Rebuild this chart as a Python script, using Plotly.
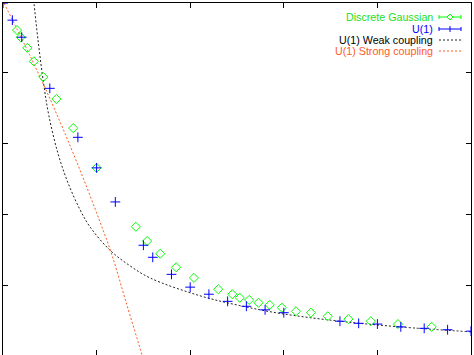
import plotly.graph_objects as go

# ---- data (axis units: ticks at 1..4) ----
dg_x = [0.15, 0.19, 0.26, 0.33, 0.43, 0.57, 0.75, 1.0, 1.42, 1.54, 1.68, 1.85, 2.04, 2.30,
        2.45, 2.53, 2.63, 2.73, 2.85, 2.98, 3.13, 3.29, 3.47, 3.69, 3.93, 4.22, 4.58]
dg_y = [4.59, 4.49, 4.34, 4.15, 3.93, 3.62, 3.21, 2.65, 1.82, 1.62, 1.44, 1.25, 1.10, 0.94,
        0.87, 0.82, 0.79, 0.75, 0.72, 0.68, 0.63, 0.61, 0.56, 0.52, 0.49, 0.45, 0.41]

u1_x = [0.0, 0.1, 0.2, 0.5, 0.8, 1.0, 1.2, 1.5, 1.6, 1.8, 2.0, 2.2, 2.4, 2.6, 2.8, 3.0,
        3.6, 3.8, 4.0, 4.25, 4.5, 4.75, 5.0]
u1_y = [4.97, 4.73, 4.49, 3.77, 3.08, 2.65, 2.17, 1.56, 1.39, 1.15, 0.97, 0.87, 0.77, 0.70,
        0.65, 0.61, 0.49, 0.46, 0.45, 0.41, 0.39, 0.37, 0.35]

weak_x = [0.32, 0.331, 0.374, 0.438, 0.491, 0.588, 0.694, 0.823, 0.929, 1.143, 1.357, 1.57,
          2.10, 2.53, 2.96, 3.60, 4.24, 5.0]
weak_y = [5.12, 4.97, 4.45, 3.80, 3.38, 2.85, 2.44, 2.06, 1.82, 1.49, 1.27, 1.10,
          0.85, 0.71, 0.60, 0.49, 0.41, 0.34]

strong_x = [0.011, 0.310, 0.556, 0.801, 1.036, 1.165, 1.314, 1.485, 1.53]
strong_y = [4.97, 4.17, 3.46, 2.69, 1.89, 1.42, 0.76, 0.014, -0.2]

legend_labels = ["Discrete Gaussian", "U(1)", "U(1) Weak coupling", "U(1) Strong coupling"]

GREEN = "#00ff00"
GREEN_TXT = "#22e022"
BLUE = "#0000ff"
BLACK = "#222222"
ORANGE = "#ff5a1e"
DOT = "2px,2px"

fig = go.Figure()
fig.add_trace(go.Scatter(x=weak_x, y=weak_y, mode="lines", line=dict(color=BLACK, width=1, dash=DOT, shape="spline"),
                         showlegend=False, hoverinfo="skip"))
fig.add_trace(go.Scatter(x=strong_x, y=strong_y, mode="lines", line=dict(color=ORANGE, width=1, dash=DOT, shape="spline"),
                         showlegend=False, hoverinfo="skip"))
fig.add_trace(go.Scatter(x=dg_x, y=dg_y, mode="markers",
                         marker=dict(symbol="diamond-open", size=7, color=GREEN, line=dict(width=1, color=GREEN)),
                         showlegend=False))
fig.add_trace(go.Scatter(x=u1_x, y=u1_y, mode="markers",
                         marker=dict(symbol="cross-thin-open", size=7, color=BLUE, line=dict(width=1, color=BLUE)),
                         showlegend=False))
fig.add_trace(go.Scatter(x=[None], y=[None], xaxis="x2", yaxis="y", showlegend=False, hoverinfo="skip"))

W, H = 474, 355
L, R, T, B = 3, 3, 3, 0


def px(x):
    return (x - L) / (W - L - R)


def py(y):
    return (H - B - y) / (H - T - B)


shapes = []
annotations = []
colors_txt = [GREEN_TXT, BLUE, "#000000", ORANGE]
rows = [17, 29, 40, 51]
for lab, col, ry in zip(legend_labels, colors_txt, rows):
    annotations.append(dict(text=lab, x=px(435), y=py(ry), xref="paper", yref="paper",
                            xanchor="right", yanchor="middle", showarrow=False,
                            font=dict(family="Liberation Sans, Arial, sans-serif", size=10.7, color=col)))

x0, x1, xm = 439, 461, 450
# green errorbar sample with diamond
ry = rows[0]
shapes.append(dict(type="line", xref="paper", yref="paper", x0=px(x0), x1=px(xm - 3), y0=py(ry), y1=py(ry), line=dict(color=GREEN, width=1)))
shapes.append(dict(type="line", xref="paper", yref="paper", x0=px(xm + 3), x1=px(x1), y0=py(ry), y1=py(ry), line=dict(color=GREEN, width=1)))
for xc in (x0, x1):
    shapes.append(dict(type="line", xref="paper", yref="paper", x0=px(xc), x1=px(xc), y0=py(ry - 2), y1=py(ry + 2), line=dict(color=GREEN, width=1)))
shapes.append(dict(type="path", xref="paper", yref="paper",
                   path=f"M {px(xm-3)},{py(ry)} L {px(xm)},{py(ry-3)} L {px(xm+3)},{py(ry)} L {px(xm)},{py(ry+3)} Z",
                   line=dict(color=GREEN, width=1)))
# blue errorbar sample with plus
ry = rows[1]
shapes.append(dict(type="line", xref="paper", yref="paper", x0=px(x0), x1=px(x1), y0=py(ry), y1=py(ry), line=dict(color=BLUE, width=1)))
for xc in (x0, x1):
    shapes.append(dict(type="line", xref="paper", yref="paper", x0=px(xc), x1=px(xc), y0=py(ry - 2), y1=py(ry + 2), line=dict(color=BLUE, width=1)))
shapes.append(dict(type="line", xref="paper", yref="paper", x0=px(xm), x1=px(xm), y0=py(ry - 3), y1=py(ry + 3), line=dict(color=BLUE, width=1)))
# dotted samples
shapes.append(dict(type="line", xref="paper", yref="paper", x0=px(x0), x1=px(x1), y0=py(rows[2]), y1=py(rows[2]), line=dict(color=BLACK, width=1, dash=DOT)))
shapes.append(dict(type="line", xref="paper", yref="paper", x0=px(x0), x1=px(x1), y0=py(rows[3]), y1=py(rows[3]), line=dict(color=ORANGE, width=1, dash=DOT)))

tick = [1, 2, 3, 4]
common = dict(showgrid=False, zeroline=False, showticklabels=False, ticks="inside", ticklen=5,
              tickcolor="black", tickwidth=1, tickvals=tick)
fig.update_layout(
    width=W, height=H, margin=dict(l=L, r=R, t=T, b=B, pad=0),
    paper_bgcolor="white", plot_bgcolor="white",
    xaxis=dict(range=[0, 5], showline=False, **common),
    xaxis2=dict(range=[0, 5], overlaying="x", side="top", anchor="y", showline=True,
                linecolor="black", linewidth=1, **common),
    yaxis=dict(range=[(356 - 355) / 71, (356 - 3) / 71], showline=True, mirror="ticks",
               linecolor="black", linewidth=1, **common),
    shapes=shapes, annotations=annotations, showlegend=False, hovermode=False,
)
fig.write_html("out.html", config={"displayModeBar": False, "staticPlot": True},
               post_script="document.body.style.margin='0';document.body.style.overflow='hidden';")
